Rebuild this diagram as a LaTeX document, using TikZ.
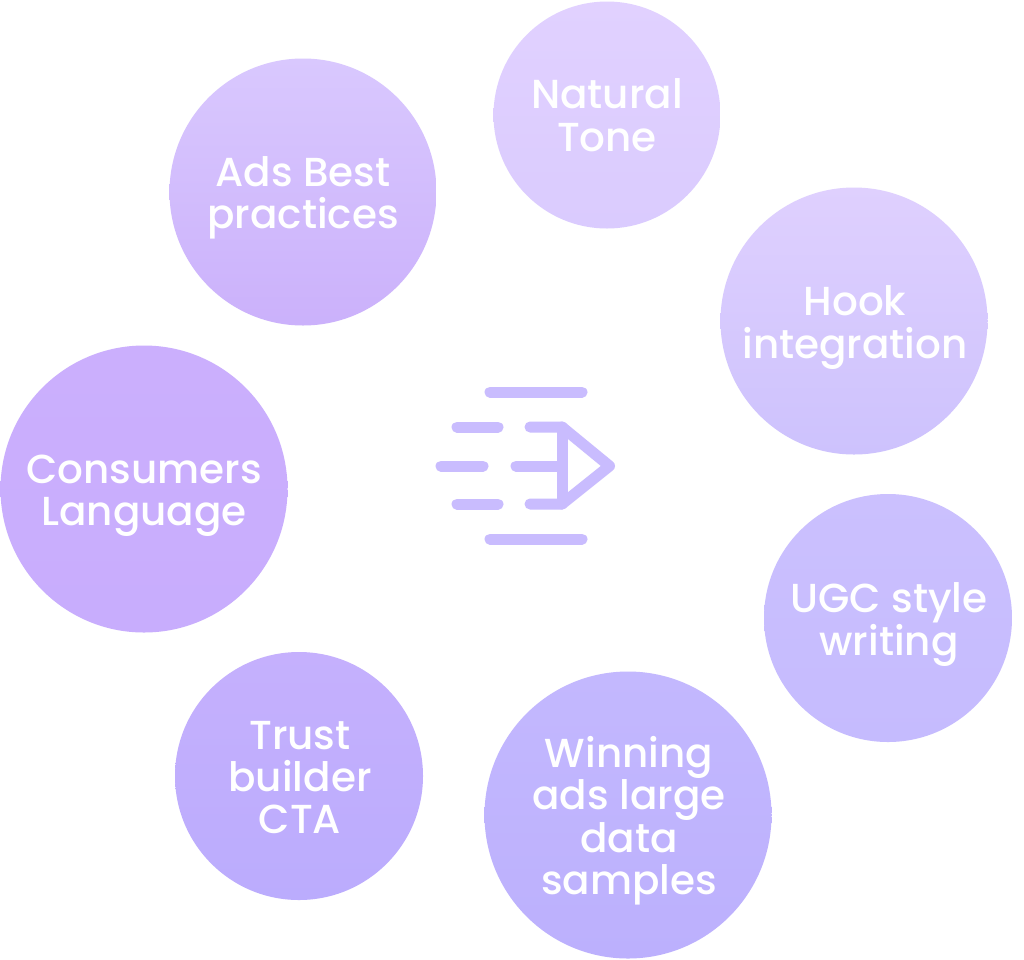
\documentclass[tikz,border=0pt]{standalone}
\usepackage{fontspec}
\setmainfont{Poppins Medium}
\definecolor{iconc}{HTML}{C9BCFE}
\tikzset{
 bubble/.style={inner sep=0pt,align=center,text=white,font=\fontsize{40.5}{42.4}\selectfont},
 iconline/.style={draw=iconc,line width=11pt,line cap=round,line join=round}
}
\begin{document}
\begin{tikzpicture}[x=1pt,y=-1pt]
\useasboundingbox (0,0) rectangle (1024,959);
\fill[white] (0,0) rectangle (1024,959);
\def\bub#1#2#3#4#5#6{%
 \definecolor{ctop}{HTML}{#5}\definecolor{cbot}{HTML}{#6}%
 \node[circle,inner sep=0pt,minimum size=#4pt,path picture={\shade[top color=ctop,bottom color=cbot] (path picture bounding box.south west) rectangle (path picture bounding box.north east);}] (#1) at (#2,#3) {};}
\bub{a}{303}{192}{267}{D9C8FE}{CBB1FB}
\bub{b}{607}{115}{227}{E1D1FF}{DACBFE}
\bub{c}{854}{321}{267}{DFD0FE}{CDC2FD}
\bub{d}{888}{618}{248}{CBC0FE}{C5BBFE}
\bub{e}{628}{815}{287}{C3B8FE}{BCB0FD}
\bub{f}{299}{776}{248}{C5B0FD}{BBACFD}
\bub{g}{144}{489}{287}{CBAFFD}{C8ADFD}
\node[bubble,yshift=-6pt] (ta) at (a) {Ads Best\\practices};
\node[bubble] (tb) at (b) {Natural\\Tone};
\node[bubble,xshift=1pt,yshift=-6.5pt] (tc) at (c) {Hook\\integration};
\node[bubble,xshift=1pt,yshift=-6.5pt] (td) at (d) {UGC style\\writing};
\node[bubble,xshift=1pt,yshift=-5.5pt] (te) at (e) {Winning\\ads large\\data\\samples};
\node[bubble,xshift=1pt,yshift=-1.5pt] (tf) at (f) {Trust\\builder\\CTA};
\node[bubble,yshift=-7pt] (tg) at (g) {Consumers\\Language};
\coordinate (l1a) at (490,392); \coordinate (l1b) at (582,392);
\coordinate (l2a) at (457,427); \coordinate (l2b) at (498,427);
\coordinate (l3a) at (441,466); \coordinate (l3b) at (483,466);
\coordinate (l4a) at (457,504); \coordinate (l4b) at (498,504);
\coordinate (l5a) at (490,539); \coordinate (l5b) at (582,539);
\coordinate (t1) at (530,427); \coordinate (t2) at (562,427);
\coordinate (t3) at (609.5,466); \coordinate (t4) at (562,504);
\coordinate (t5) at (530,504); \coordinate (m1) at (516,466);
\coordinate (m2) at (562,466);
\draw[iconline] (l1a)--(l1b);
\draw[iconline] (l2a)--(l2b);
\draw[iconline] (l3a)--(l3b);
\draw[iconline] (l4a)--(l4b);
\draw[iconline] (l5a)--(l5b);
\draw[iconline] (t1)--(t2)--(t3)--(t4)--(t5);
\draw[iconline] (t2)--(t4);
\draw[iconline] (m1)--(m2);
\end{tikzpicture}
\end{document}
